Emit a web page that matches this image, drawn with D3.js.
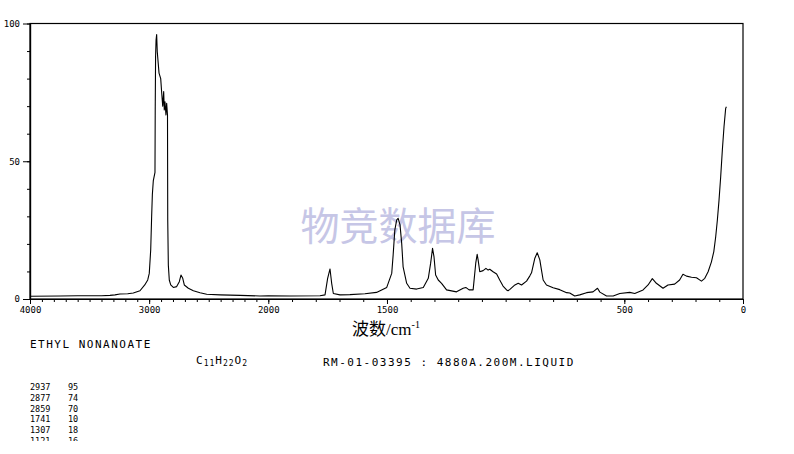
<!DOCTYPE html>
<html><head><meta charset="utf-8">
<script src="https://cdn.jsdelivr.net/npm/d3@7/dist/d3.min.js"></script>
<style>
html,body{margin:0;padding:0;background:#fff;}
svg{display:block;}
.mono{font-family:"DejaVu Sans Mono","Liberation Mono",monospace;fill:#000;}
</style></head>
<body>
<svg id="chart" width="794" height="454"></svg>
<script>
// Raman spectrum, wavenumber (cm-1) and relative intensity
const wavenumbers = [4000,3748,3600,3496,3400,3329,3287,3245,3180,3133,3077,3037,3012,2999,2987,2979,2973,2965,2951,2949,2946,2942,2937,2932,2917,2903,2895,2886,2878,2873,2867,2859,2853,2846,2844,2839,2831,2819,2797,2769,2747,2733,2718,2705,2671,2629,2573,2517,2405,2237,2070,2000,1909,1782,1761,1750,1740,1733,1726,1698,1656,1593,1544,1501,1480,1474,1467,1459,1453,1445,1438,1432,1417,1403,1375,1347,1326,1316,1308,1302,1295,1284,1270,1249,1207,1179,1168,1154,1137,1126,1120,1116,1109,1095,1083,1074,1067,1053,1038,1025,1011,996,990,982,961,947,933,912,898,891,877,867,856,849,842,828,800,772,743,730,709,688,659,632,613,603,575,547,519,477,456,421,400,382,365,337,316,288,267,253,238,217,196,175,161,147,133,123,115,108,101,94,87,80,73,70];
const intensities = [1.0,1.1,1.2,1.2,1.2,1.3,1.5,1.8,1.9,2.2,3.0,5.1,6.9,9.3,17.8,30,38,43,46,69,88,94,96,89.8,82,80,75,70,75.3,68.6,71.6,66.8,71,66.8,28.7,12.3,6.9,5.1,4.2,4.5,6.3,8.7,7.5,5.1,3.9,3.0,2.3,1.7,1.5,1.3,1.1,1.2,1.1,1.2,1.5,7.5,10.9,5.7,2.0,1.5,1.6,1.9,2.4,4.2,9.3,16,25,28.7,29.3,26.9,20.2,11.7,5.7,3.9,3.6,4.2,7.5,13,18.4,15.4,8.7,6.9,5.7,3.3,2.6,3.9,4.2,3.3,3.3,13,16.2,14.2,9.9,10.3,11.1,10.5,10.8,9.9,9.1,6.9,4.7,3.3,3.0,3.5,5.1,5.7,5.1,6.5,8.4,9.5,14.8,16.8,14.2,10.5,6.9,5.1,4.1,3.4,2.3,2.2,1.1,1.5,2.3,2.6,3.9,2.5,1.1,1.1,2.0,2.4,2.0,3.3,5.1,7.4,5.7,3.9,5.1,5.4,6.9,9.0,8.3,7.9,7.7,6.5,7.5,9.9,13.5,17.2,22.6,28.7,35.9,44.4,54.1,62.5,69.2,69.8];
const xMinorTicks = d3.range(4000, -1, -100);
const xLabelTicks = [4000, 3000, 2000, 1500, 500, 0];
const yMinorTicks = d3.range(0, 101, 10);
const yLabelTicks = [0, 50, 100];
const peakWavenumbers = ["2937","2877","2859","1741","1307","1121"];
const peakIntensities = ["95","74","70","10","18","16"];

const svg = d3.select("#chart");
const x = d3.scaleLinear().domain([4000, 2000, 0]).range([30, 268.3, 743]);
const y = d3.scaleLinear().domain([0, 100]).range([299, 23.5]);

// frame
svg.append("rect").attr("x", x(4000)).attr("y", y(100))
  .attr("width", x(0) - x(4000)).attr("height", y(0) - y(100))
  .attr("fill", "none").attr("stroke", "#000").attr("stroke-width", 1.2);

// watermark
svg.append("text").attr("x", 398).attr("y", 240).attr("text-anchor", "middle")
  .attr("font-family", "'Noto Sans CJK SC',sans-serif").attr("font-size", 39)
  .attr("fill", "#c6c6e6").text("物竞数据库");

// axes
const gx = svg.append("g").attr("transform", `translate(0,${y(0)})`);
gx.call(d3.axisBottom(x).tickValues(xMinorTicks).tickSize(3).tickFormat("").tickSizeOuter(0));
const gx2 = svg.append("g").attr("transform", `translate(0,${y(0)})`);
gx2.call(d3.axisBottom(x).tickValues(xLabelTicks).tickSize(5).tickSizeOuter(0).tickPadding(3).tickFormat(d3.format("d")));
const gy = svg.append("g").attr("transform", `translate(${x(4000)},0)`);
gy.call(d3.axisLeft(y).tickValues(yMinorTicks).tickSize(3).tickFormat("").tickSizeOuter(0));
const gy2 = svg.append("g").attr("transform", `translate(${x(4000)},0)`);
gy2.call(d3.axisLeft(y).tickValues(yLabelTicks).tickSize(7).tickSizeOuter(0).tickPadding(3).tickFormat(d3.format("d")));
svg.selectAll(".domain").attr("stroke", "#000").attr("stroke-width", 1.2);
svg.selectAll(".tick line").attr("stroke", "#000");
svg.selectAll(".tick text").attr("class", "mono").attr("font-size", 9)
  .attr("font-family", "'DejaVu Sans Mono',monospace").attr("fill", "#000");

// spectrum
const pts = wavenumbers.map((w, i) => [w, intensities[i]]);
svg.append("path").datum(pts)
  .attr("d", d3.line().x(d => x(d[0])).y(d => y(d[1])))
  .attr("fill", "none").attr("stroke", "#000").attr("stroke-width", 1.1)
  .attr("stroke-linejoin", "round");

// axis title
const t = svg.append("text").attr("x", 386).attr("y", 335).attr("text-anchor", "middle")
  .attr("font-family", "'Liberation Serif','Noto Sans CJK SC',serif").attr("font-size", 17).attr("fill", "#000");
t.append("tspan").text("波数/cm");
t.append("tspan").attr("font-size", 10).attr("dy", -7).text("-1");

// compound info
svg.append("text").attr("class", "mono").attr("x", 30).attr("y", 348)
  .attr("font-size", 11).attr("letter-spacing", 1.5).text("ETHYL NONANOATE");
const f = svg.append("text").attr("class", "mono").attr("x", 196).attr("y", 366)
  .attr("font-size", 11).attr("letter-spacing", 1);
[["C",0],["11",1],["H",0],["22",1],["O",0],["2",1]].forEach(([s, sub]) => {
  f.append("tspan").attr("font-size", sub ? 8 : 11).attr("dy", sub ? 2 : -2).text(s);
});
svg.append("text").attr("class", "mono").attr("x", 323).attr("y", 366)
  .attr("font-size", 11).attr("letter-spacing", 1.5).text("RM-01-03395 : 4880A.200M.LIQUID");

// peak list (last row clipped as in the picture)
svg.append("clipPath").attr("id", "clipList").append("rect")
  .attr("x", 0).attr("y", 370).attr("width", 200).attr("height", 71);
const gl = svg.append("g").attr("clip-path", "url(#clipList)");
peakWavenumbers.forEach((w, i) => {
  gl.append("text").attr("class", "mono").attr("x", 30).attr("y", 390 + i * 10.8)
    .attr("font-size", 8.5).text(w);
  gl.append("text").attr("class", "mono").attr("x", 68).attr("y", 390 + i * 10.8)
    .attr("font-size", 8.5).text(peakIntensities[i]);
});
</script>
</body></html>
